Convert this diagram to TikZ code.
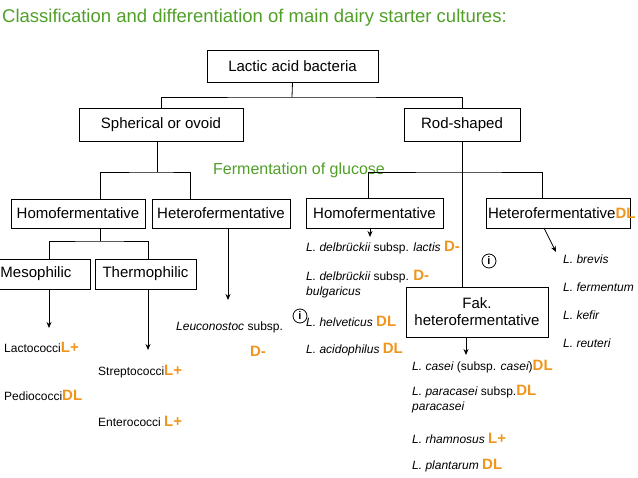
\documentclass[tikz,border=0pt]{standalone}
\usepackage{fontspec}
\setmainfont{Liberation Sans}
\usetikzlibrary{arrows.meta}
\definecolor{tgreen}{RGB}{80,160,40}
\definecolor{torange}{RGB}{240,150,30}
\tikzset{
 bx/.style={draw,line width=0.8pt,inner sep=0pt,font=\fontsize{15}{17}\selectfont,align=center},
 ln/.style={line width=0.8pt},
 ar/.style={line width=0.8pt,-{Stealth[length=6pt,width=5pt]}},
 it/.style={anchor=west,inner sep=0pt,font=\fontsize{12}{15}\selectfont,align=left},
 info/.style={circle,draw,line width=0.8pt,inner sep=0pt,minimum size=14pt,font=\bfseries\fontsize{11}{11}\selectfont},
}
\newcommand{\ot}[1]{{\color{torange}\fontsize{15}{15}\selectfont\bfseries #1}}
\begin{document}
\begin{tikzpicture}[x=1pt,y=-1pt]
\useasboundingbox (0,0) rectangle (638,478);
\node[anchor=west,inner sep=0pt,text=tgreen,font=\fontsize{18.5}{20}\selectfont] (title) at (2,18) {Classification and differentiation of main dairy starter cultures:};
\node[bx,minimum width=171pt,minimum height=32pt] (lab) at (292.5,66) {Lactic acid bacteria};
\node[bx,minimum width=164pt,minimum height=33pt] (sph) at (161,124.5) {Spherical or ovoid};
\node[bx,minimum width=116pt,minimum height=33pt] (rod) at (462,124.5) {Rod-shaped};
\node[text=tgreen,font=\fontsize{16}{18}\selectfont,inner sep=0pt] (fg) at (299,170) {Fermentation of glucose};
\node[bx,minimum width=134pt,minimum height=29pt] (lho) at (78,213.5) {Homofermentative};
\node[bx,minimum width=138pt,minimum height=29pt] (lhe) at (221,213.5) {Heterofermentative};
\node[bx,minimum width=137pt,minimum height=30pt] (rho) at (374.5,213) {Homofermentative};
\node[bx,minimum width=144pt,minimum height=30pt,text width=140pt,align=left] (rhe) at (558,213) {Heterofermentative\ot{DL}};
\node[bx,minimum width=91pt,minimum height=30pt,text width=88pt,align=left] (mes) at (44.5,274) {Mesophilic};
\node[bx,minimum width=101pt,minimum height=30pt] (the) at (145.5,274) {Thermophilic};
\node[bx,minimum width=142pt,minimum height=50pt] (fak) at (477,312) {Fak.\\heterofermentative};
% connectors
\coordinate (j1) at (292,97);
\draw[ln] (lab.south) -- (j1);
\draw[ln] (sph.north) |- (j1) -| (rod.north);
\draw[ln] (157,141) -- (157,172) coordinate (j2);
\draw[ln] (100,199) |- (j2) -| (190,199);
\draw[ln] (100,228) -- (100,241) coordinate (j3);
\draw[ln] (49,259) |- (j3) -| (148,259);
\draw[ln] (462,141) -- (462,287);
\draw[ln] (368,198) |- (462,172) -| (542,198);
% arrows
\coordinate (a1) at (49,328); \draw[ar] (49,289) -- (a1);
\coordinate (a2) at (148,350); \draw[ar] (148,289) -- (a2);
\coordinate (a3) at (228,300); \draw[ar] (228,228) -- (a3);
\coordinate (a4) at (370,237); \draw[ar] (370,228) -- (a4);
\coordinate (a5) at (466,355); \draw[ar] (466,337) -- (a5);
\coordinate (a6) at (556,252); \draw[ar] (544,228) -- (a6);
% left texts
\node[it] (t1) at (4,347) {Lactococci\ot{L+}};
\node[it] (t2) at (4,395) {Pediococci\ot{DL}};
\node[it] (t3) at (98,372) {Streptococci\ot{L+}};
\node[it] (t4) at (98,421) {Enterococci \ot{L+}};
\node[it] (t5) at (176,327) {\itshape Leuconostoc \upshape subsp.};
\node[inner sep=0pt] (t6) at (258,351) {\ot{D-}};
% homo right
\node[it] (r1) at (306,248) {\itshape L. delbrückii \upshape subsp. \itshape lactis \upshape\ot{D-}};
\node[it] (r2) at (306,284) {\itshape L. delbrückii \upshape subsp. \ot{D-}\\\itshape bulgaricus};
\node[it] (r3) at (306,321) {\itshape L. helveticus \upshape\ot{DL}};
\node[it] (r4) at (306,350) {\itshape L. acidophilus \upshape\ot{DL}};
\node[info] (i1) at (300,316) {i};
\node[info] (i2) at (489,261) {i};
% fak
\node[it] (f1) at (412,367) {\itshape L. casei \upshape(subsp. \itshape casei\upshape)\ot{DL}};
\node[it] (f2) at (412,399) {\itshape L. paracasei \upshape subsp.\ot{DL}\\\itshape paracasei};
\node[it] (f3) at (412,438) {\itshape L. rhamnosus \upshape\ot{L+}};
\node[it] (f4) at (412,466) {\itshape L. plantarum \upshape\ot{DL}};
% hetero right
\node[it] (h1) at (563,259) {\itshape L. brevis};
\node[it] (h2) at (563,287) {\itshape L. fermentum};
\node[it] (h3) at (563,315) {\itshape L. kefir};
\node[it] (h4) at (563,343) {\itshape L. reuteri};
\end{tikzpicture}
\end{document}
